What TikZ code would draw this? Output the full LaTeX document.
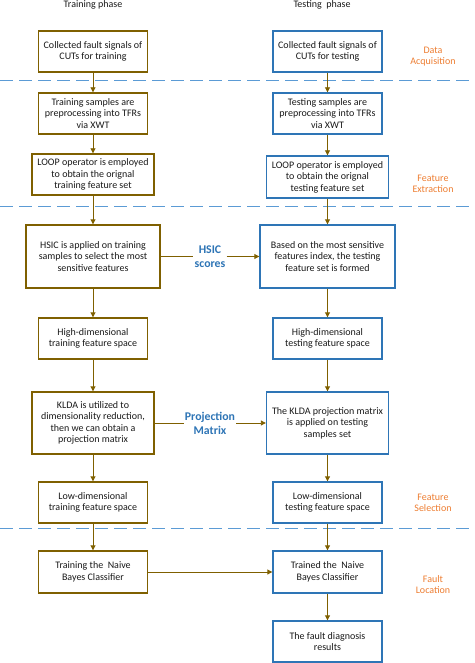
\documentclass[tikz,border=0pt]{standalone}
\usepackage{fontspec}
\setmainfont{Carlito}
\usetikzlibrary{arrows.meta}
\definecolor{trainc}{RGB}{127,96,0}
\definecolor{testc}{RGB}{46,117,182}
\definecolor{sepc}{RGB}{91,155,213}
\definecolor{stagec}{RGB}{237,125,49}

\begin{document}
\begin{tikzpicture}[x=1pt,y=-1pt,
  trainbox/.style={draw=trainc, line width=1.4pt, align=center, text=black!90, inner sep=0pt,
    font=\fontsize{10}{11.5}\selectfont},
  testbox/.style={trainbox, draw=testc},
  flow/.style={draw=trainc, line width=0.9pt, -{Triangle[length=5pt,width=5pt]}},
  stage/.style={text=stagec, align=center, font=\fontsize{10}{11}\selectfont},
  link/.style={text=testc, align=center, fill=white, inner sep=1pt, font=\bfseries\fontsize{11.8}{14}\selectfont},
  sep/.style={draw=sepc, line width=0.9pt, dash pattern=on 13pt off 6pt}]
\useasboundingbox (0,0) rectangle (474,663);

% phase titles
\node[font=\fontsize{10}{12}\selectfont, text=black!90] (trphase) at (93,5) {Training phase};
\node[font=\fontsize{10}{12}\selectfont, text=black!90] (tephase) at (322,5) {Testing\ \ phase};

% stage separators
\foreach \y in {80,206,528} {
\draw[sep] (0,\y) -- (474,\y);
}
\foreach \y/\t in {57/{Data\\Acquisition}, 184/{Feature\\Extraction}, 503/{Feature\\Selection}, 585/{Fault\\Location}} {
\node[stage] at (433,\y) {\t};
}

% training column
\node[trainbox, minimum width=109pt, minimum height=41pt] (tr1) at (93,51.5) {Collected fault signals of\\CUTs for training};
\node[trainbox, minimum width=109pt, minimum height=41pt] (tr2) at (93,113.5) {Training samples are\\preprocessing into TFRs\\via XWT};
\node[trainbox, minimum width=122pt, minimum height=41pt] (tr3) at (93,174.5) {LOOP operator is employed\\to obtain the orignal\\training feature set};
\node[trainbox, minimum width=134pt, minimum height=63pt] (tr4) at (93,256.5) {HSIC is applied on training\\samples to select the most\\sensitive features};
\node[trainbox, minimum width=109pt, minimum height=41pt] (tr5) at (93,338.5) {High-dimensional\\training feature space};
\node[trainbox, minimum width=122pt, minimum height=62pt] (tr6) at (93,423) {KLDA is utilized to\\dimensionality reduction,\\then we can obtain a\\projection matrix};
\node[trainbox, minimum width=109pt, minimum height=41pt] (tr7) at (93,502.5) {Low-dimensional\\training feature space};
\node[trainbox, minimum width=109pt, minimum height=42pt] (tr8) at (93,572) {Training the\ \ Naive\\Bayes Classifier};

% testing column
\node[testbox, minimum width=109pt, minimum height=41pt] (te1) at (327.5,51.5) {Collected fault signals of\\CUTs for testing};
\node[testbox, minimum width=109pt, minimum height=41pt] (te2) at (327.5,113.5) {Testing samples are\\preprocessing into TFRs\\via XWT};
\node[testbox, minimum width=122pt, minimum height=42pt] (te3) at (327.5,177) {LOOP operator is employed\\to obtain the orignal\\testing feature set};
\node[testbox, minimum width=135pt, minimum height=63pt] (te4) at (327.5,256.5) {Based on the most sensitive\\features index, the testing\\feature set is formed};
\node[testbox, minimum width=109pt, minimum height=41pt] (te5) at (327.5,338.5) {High-dimensional\\testing feature space};
\node[testbox, minimum width=122pt, minimum height=62pt] (te6) at (327.5,423) {The KLDA projection matrix\\is applied on testing\\samples set};
\node[testbox, minimum width=109pt, minimum height=41pt] (te7) at (327.5,502.5) {Low-dimensional\\testing feature space};
\node[testbox, minimum width=109pt, minimum height=42pt] (te8) at (327.5,572) {Trained the\ \ Naive\\Bayes Classifier};
\node[testbox, minimum width=109pt, minimum height=41pt] (te9) at (327.5,641.5) {The fault diagnosis\\results};

\foreach \a/\b in {tr1/tr2,tr2/tr3,tr3/tr4,tr4/tr5,tr5/tr6,tr6/tr7,tr7/tr8,
  te1/te2,te2/te3,te3/te4,te4/te5,te5/te6,te6/te7,te7/te8,te8/te9} {
\draw[flow] (\a.south) -- (\b.north);
}

% links between the phases
\node[link] (hsic) at (210,256.5) {HSIC\\scores};
\node[link] (proj) at (210,423) {Projection\\Matrix};
\draw[draw=trainc, line width=0.9pt] (tr4.east) -- (hsic.west);
\draw[flow] (hsic.east) -- (te4.west);
\draw[draw=trainc, line width=0.9pt] (tr6.east) -- (proj.west);
\draw[flow] (proj.east) -- (te6.west);
\draw[flow] (tr8.east) -- (te8.west);

\end{tikzpicture}
\end{document}
